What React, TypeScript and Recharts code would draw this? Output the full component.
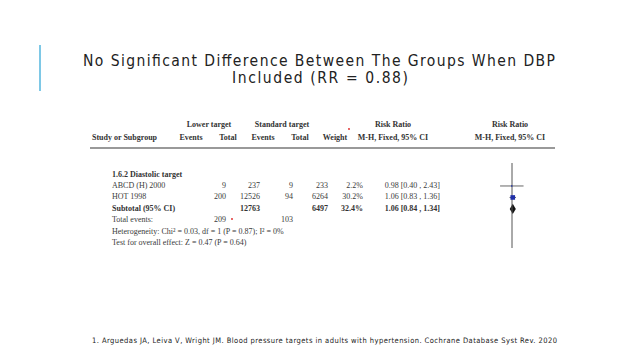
import React from 'react';
import {
  ScatterChart,
  Scatter,
  XAxis,
  YAxis,
  ReferenceLine,
  ReferenceArea,
} from 'recharts';

// study rows
const studies = ['ABCD (H) 2000', 'HOT 1998'];
const lowerEvents = [9, 200];
const lowerTotal = [237, 12526];
const standardEvents = [9, 94];
const standardTotal = [233, 6264];
const weights = [2.2, 30.2];
const riskRatio = [0.98, 1.06];
const ciLow = [0.4, 0.83];
const ciHigh = [2.43, 1.36];

// subtotal row
const subtotalTotals = [12763, 6497];
const subtotalWeight = 32.4;
const subtotalRR = [1.06, 0.84, 1.34];
const totalEvents = [209, 103];

const SERIF = '"Liberation Serif", "Times New Roman", serif';
const SANS = '"DejaVu Sans Condensed", "DejaVu Sans", sans-serif';
const TEXT = '#3a3a3a';

const fmt = (rr: number, lo: number, hi: number) =>
  `${rr.toFixed(2)} [${lo.toFixed(2)} , ${hi.toFixed(2)}]`;

const points = studies.map((s, i) => ({ x: riskRatio[i], y: i + 1, w: weights[i] }));

const SquareShape = (props: any) => {
  const { cx, cy, payload } = props;
  const side = Math.max(1.4, Math.sqrt(payload.w / 30.2) * 4.6);
  return <rect x={cx - side / 2} y={cy - side / 2} width={side} height={side} fill="#1f2fa8" />;
};

const DiamondShape = (props: any) => {
  const { x, y, width, height } = props;
  const mid = y + height / 2;
  const [rr, lo, hi] = subtotalRR;
  // point estimate position inside the CI box (log scale)
  const px = x + (width * Math.log(rr / lo)) / Math.log(hi / lo);
  return (
    <polygon
      points={`${x},${mid} ${px},${y} ${x + width},${mid} ${px},${y + height}`}
      fill="#111"
    />
  );
};

const ForestPlot = () => (
  <div style={{ position: 'absolute', left: 473, top: 163 }}>
    <ScatterChart width={78} height={85} margin={{ top: 0, right: 0, bottom: 0, left: 0 }}>
      <XAxis type="number" dataKey="x" scale="log" domain={[0.05, 20]} allowDataOverflow hide />
      <YAxis type="number" dataKey="y" domain={[-1, 6.4]} reversed allowDataOverflow hide />
      <ReferenceLine x={1} stroke="#555" strokeWidth={1} />
      {studies.map((s, i) => (
        <ReferenceLine
          key={s}
          segment={[{ x: ciLow[i], y: i + 1 }, { x: ciHigh[i], y: i + 1 }]}
          stroke="#666"
          strokeWidth={1}
          ifOverflow="visible"
        />
      ))}
      <Scatter data={points} shape={SquareShape} isAnimationActive={false} />
      <ReferenceArea
        x1={subtotalRR[1]}
        x2={subtotalRR[2]}
        y1={2.55}
        y2={3.45}
        ifOverflow="visible"
        shape={DiamondShape}
      />
    </ScatterChart>
  </div>
);

const Table = () => {
  const rowY = [188, 199];
  const cols = [226, 260, 293, 328, 363];
  return (
    <svg width={638} height={359} style={{ position: 'absolute', left: 0, top: 0 }}>
      {/* slide accent bar */}
      <rect x={39} y={45} width={2} height={46} fill="#7ec8e6" />
      <text x={83} y={66} fontFamily={SANS} fontSize={15.5} fill="#222" textLength={472} lengthAdjust="spacing">
        No Significant Difference Between The Groups When DBP
      </text>
      <text x={232} y={83} fontFamily={SANS} fontSize={15.5} fill="#222" textLength={176} lengthAdjust="spacing">
        Included (RR = 0.88)
      </text>

      <g fontFamily={SERIF} fontSize={8} fill={TEXT}>
        <g fontWeight="bold" fill="#333">
          <text x={209} y={127} textAnchor="middle">Lower target</text>
          <text x={282} y={127} textAnchor="middle">Standard target</text>
          <text x={393} y={127} textAnchor="middle">Risk Ratio</text>
          <text x={510} y={127} textAnchor="middle">Risk Ratio</text>
          <text x={92} y={140}>Study or Subgroup</text>
          <text x={191} y={140} textAnchor="middle">Events</text>
          <text x={228} y={140} textAnchor="middle">Total</text>
          <text x={263} y={140} textAnchor="middle">Events</text>
          <text x={300} y={140} textAnchor="middle">Total</text>
          <text x={335} y={140} textAnchor="middle">Weight</text>
          <text x={393} y={140} textAnchor="middle">M-H, Fixed, 95% CI</text>
          <text x={510} y={140} textAnchor="middle">M-H, Fixed, 95% CI</text>
        </g>
        <circle cx={349} cy={129} r={0.9} fill="#d22" />
        <line x1={90} x2={555} y1={148} y2={148} stroke="#777" strokeWidth={1.5} />

        <text x={112} y={177} fontWeight="bold" fill="#333">1.6.2 Diastolic target</text>
        {studies.map((s, i) => (
          <g key={s}>
            <text x={112} y={rowY[i]}>{s}</text>
            <text x={cols[0]} y={rowY[i]} textAnchor="end">{lowerEvents[i]}</text>
            <text x={cols[1]} y={rowY[i]} textAnchor="end">{lowerTotal[i]}</text>
            <text x={cols[2]} y={rowY[i]} textAnchor="end">{standardEvents[i]}</text>
            <text x={cols[3]} y={rowY[i]} textAnchor="end">{standardTotal[i]}</text>
            <text x={cols[4]} y={rowY[i]} textAnchor="end">{weights[i].toFixed(1)}%</text>
            <text x={440} y={rowY[i]} textAnchor="end">{fmt(riskRatio[i], ciLow[i], ciHigh[i])}</text>
          </g>
        ))}
        <g fontWeight="bold" fill="#333">
          <text x={112} y={211}>Subtotal (95% CI)</text>
          <text x={cols[1]} y={211} textAnchor="end">{subtotalTotals[0]}</text>
          <text x={cols[3]} y={211} textAnchor="end">{subtotalTotals[1]}</text>
          <text x={cols[4]} y={211} textAnchor="end">{subtotalWeight.toFixed(1)}%</text>
          <text x={440} y={211} textAnchor="end">{fmt(subtotalRR[0], subtotalRR[1], subtotalRR[2])}</text>
        </g>
        <text x={112} y={222}>Total events:</text>
        <text x={cols[0]} y={222} textAnchor="end">{totalEvents[0]}</text>
        <circle cx={232} cy={219} r={0.9} fill="#d22" />
        <text x={cols[2]} y={222} textAnchor="end">{totalEvents[1]}</text>
        <text x={112} y={234}>Heterogeneity: Chi² = 0.03, df = 1 (P = 0.87); I² = 0%</text>
        <text x={112} y={245}>Test for overall effect: Z = 0.47 (P = 0.64)</text>
      </g>

      <text x={92} y={343} fontFamily={SANS} fontSize={7.5} fill="#222" textLength={465} lengthAdjust="spacing">
        1. Arguedas JA, Leiva V, Wright JM. Blood pressure targets in adults with hypertension. Cochrane Database Syst Rev. 2020
      </text>
    </svg>
  );
};

export default function App() {
  return (
    <div style={{ position: 'absolute', left: 0, top: 0, width: 638, height: 359, background: '#fff', overflow: 'hidden' }}>
      <Table />
      <ForestPlot />
    </div>
  );
}
